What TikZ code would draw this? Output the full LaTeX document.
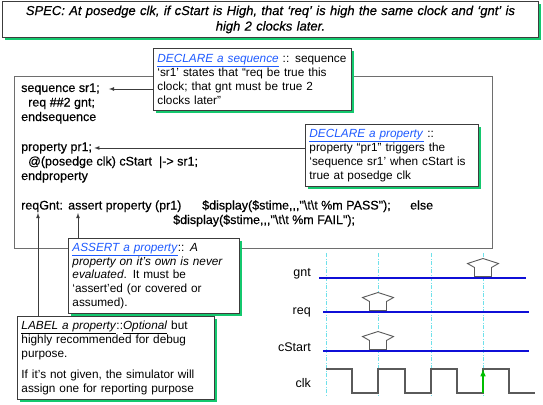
\documentclass[tikz,border=0pt]{standalone}
\usepackage{fontspec}
\setmainfont{Liberation Sans}
\newfontfamily\codefont[FakeBold=0.4]{Liberation Sans}
\usepackage{tikz}
\usetikzlibrary{arrows, shadows, positioning}
\definecolor{shadowgreen}{RGB}{20,200,110}
\definecolor{linkblue}{RGB}{30,90,255}
\definecolor{boxgray}{RGB}{60,60,60}
\definecolor{framegray}{RGB}{110,110,110}
\definecolor{wireblue}{RGB}{15,15,215}
\definecolor{gridcyan}{RGB}{110,225,235}
\definecolor{clkgray}{RGB}{90,90,90}
\definecolor{edgegreen}{RGB}{0,190,0}
\newcommand{\lnk}[1]{\textcolor{linkblue}{\underline{\textit{#1}}}}
\newcommand{\edgearrow}[2]{\draw[blockarr] (#1-8.5,#2) -- ++(0,-9) -- ++(-7,-4) -- ++(15.5,-5) -- ++(15.5,5) -- ++(-7,4) -- ++(0,9) -- cycle;}
\tikzset{
 callout/.style={draw=boxgray, fill=white, line width=0.9pt, inner xsep=4pt, inner ysep=2pt, align=left, anchor=north west, font=\fontsize{11.8}{13.8}\selectfont, drop shadow={shadow xshift=3pt, shadow yshift=-3pt, fill=shadowgreen, opacity=1}},
 codeline/.style={anchor=base west, inner sep=0pt, font=\codefont\fontsize{12.5}{15}\selectfont},
 signame/.style={anchor=base east, inner sep=0pt, font=\fontsize{12.5}{15}\selectfont},
 callarrow/.style={-latex, draw=boxgray, line width=0.8pt},
 wire/.style={draw=wireblue, line width=1.8pt},
 clkmark/.style={draw=gridcyan, line width=0.8pt, dash pattern=on 4pt off 1.5pt on 1pt off 1.5pt},
 clkwave/.style={draw=clkgray, line width=1.2pt},
 blockarr/.style={draw=clkgray, fill=white, line width=0.9pt, line join=miter}
}
\begin{document}
\begin{tikzpicture}[x=1pt, y=-1pt]
\useasboundingbox (0,0) rectangle (543,404);

\node[callout, minimum width=536pt, minimum height=36pt, text width=528pt, align=center, font=\codefont\fontsize{13}{15.5}\selectfont\itshape] (spec) at (2,1) {SPEC: At posedge clk, if cStart is High, that ‘req’ is high the same clock and ‘gnt’ is\\ high 2 clocks later.};

\draw[draw=framegray, line width=0.9pt] (14,76) rectangle (492,248);
\node[codeline] (seqline) at (21,92) {sequence sr1;};
\node[codeline] (reqline) at (28,106.5) {req \#\#2 gnt;};
\node[codeline] (endseq) at (21,121) {endsequence};
\node[codeline] (propline) at (21,151) {property pr1;};
\node[codeline] (clkline) at (28,165.5) {@(posedge clk) cStart~~|-> sr1;};
\node[codeline] (endprop) at (21,180) {endproperty};
\node[codeline] (lblname) at (21,209.5) {reqGnt:};
\node[codeline] (asrtcall) at (68,209.5) {assert property (pr1)};
\node[codeline] (passcall) at (202,209.5) {\$display(\$stime,{},{},"\textbackslash t\textbackslash t \%m PASS");};
\node[codeline] (elsekw) at (410,209.5) {else};
\node[codeline] (failcall) at (173,224) {\$display(\$stime,{},{},"\textbackslash t\textbackslash t \%m FAIL");};

\node[callout, minimum width=198pt, minimum height=62pt, text width=190pt] (seqbox) at (153,48) {\lnk{DECLARE a sequence} :: sequence\\ ‘sr1’ states that “req be true this\\ clock; that gnt must be true 2\\ clocks later”};
\node[callout, minimum width=173pt, minimum height=62pt, text width=165pt] (propbox) at (305,124) {\lnk{DECLARE a property} ::\\ property “pr1” triggers the\\ ‘sequence sr1’ when cStart is\\ true at posedge clk};
\node[callout, minimum width=171pt, minimum height=75pt, text width=163pt] (assertbox) at (68,238) {\lnk{ASSERT a property}:: \textit{A}\\ \textit{property on it’s own is never}\\ \textit{evaluated}. It must be\\ ‘assert’ed (or covered or\\ assumed).};
\node[callout, minimum width=197pt, minimum height=83pt, text width=189pt] (labelbox) at (17,316) {\underline{\textit{LABEL a property}}::\underline{\textit{Optional}} but\\ highly recommended for debug\\ purpose.\\[8pt] If it’s not given, the simulator will\\ assign one for reporting purpose};

\coordinate (lbltip) at (38,213); \coordinate (asrtip) at (78,213);
\draw[callarrow] (seqbox.west |- seqline.east) -- ([xshift=9pt]seqline.east);
\draw[callarrow] (propbox.west |- propline.east) -- ([xshift=2pt]propline.east);
\draw[callarrow] (labelbox.north -| lbltip) -- (lbltip);
\draw[callarrow] (assertbox.north -| asrtip) -- (asrtip);

\node[signame] (gntname) at (311,276) {gnt};
\node[signame] (reqname) at (311,314) {req};
\node[signame] (startname) at (311,351) {cStart};
\node[signame] (clkname) at (311,387) {clk};

\draw[clkmark] (326,253) -- (326,396); \draw[clkmark] (378,253) -- (378,396);
\draw[clkmark] (431,253) -- (431,396); \draw[clkmark] (483,253) -- (483,396);

\draw[wire] (319,278) -- (526,278);
\draw[wire] (323,312) -- (529,312);
\draw[wire] (323,351) -- (529,351);

\draw[clkwave] (326,369) -- (352,369) -- (352,393) -- (378,393) -- (378,369) -- (405,369) -- (405,393) -- (431,393) -- (431,369) -- (457,369) -- (457,393) -- (483,393) -- (483,369) -- (509,369) -- (509,393) -- (535,393);

\edgearrow{483}{276.5} \edgearrow{378}{310.5} \edgearrow{378}{349.5}
\draw[edgegreen, line width=1.5pt, -latex] (483,393) -- (483,369);
\end{tikzpicture}
\end{document}
